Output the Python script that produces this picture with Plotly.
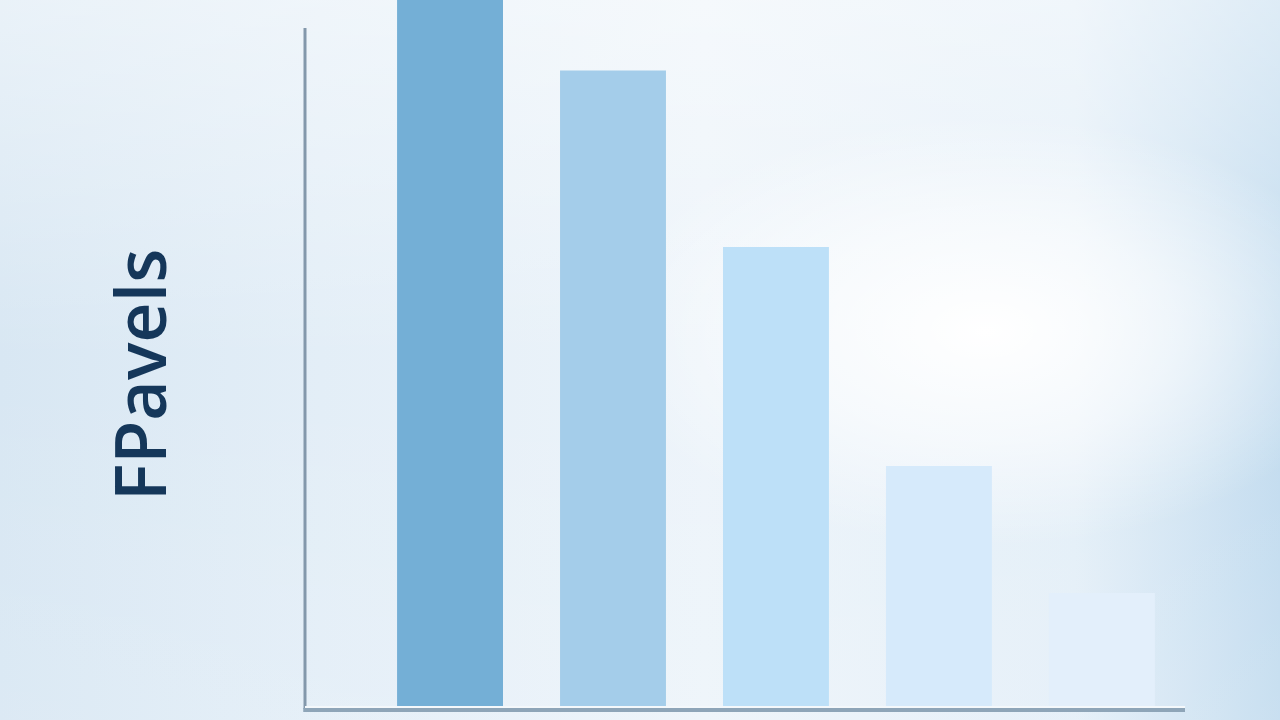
import base64
import plotly.graph_objects as go

# Data
categories = ["A", "B", "C", "D", "E"]
values = [102, 90, 65, 34, 16]
bar_colors = ["#74afd6", "#a4cdea", "#bde0f8", "#d6eafb", "#e3effb"]
y_label = "FPavels"

W, H = 1280, 720
ML, MR, MT, MB = 305, 95, 0, 14
PW, PH = W - ML - MR, H - MT - MB

svg = f"""<svg xmlns='http://www.w3.org/2000/svg' width='{W}' height='{H}' viewBox='0 0 {W} {H}' preserveAspectRatio='none'>
<defs>
<linearGradient id='g' x1='0' y1='0' x2='1' y2='0'>
<stop offset='0' stop-color='#d8e7f3'/>
<stop offset='0.25' stop-color='#e3eef7'/>
<stop offset='0.55' stop-color='#edf4fa'/>
<stop offset='0.84' stop-color='#e4eff8'/>
<stop offset='1' stop-color='#c3dcef'/>
</linearGradient>
<linearGradient id='v' x1='0' y1='0' x2='0' y2='1'>
<stop offset='0' stop-color='#ffffff' stop-opacity='0.45'/>
<stop offset='0.5' stop-color='#ffffff' stop-opacity='0'/>
<stop offset='1' stop-color='#ffffff' stop-opacity='0.1'/>
</linearGradient>
<radialGradient id='r' cx='0.77' cy='0.46' r='0.3'>
<stop offset='0' stop-color='#ffffff' stop-opacity='1'/>
<stop offset='0.5' stop-color='#ffffff' stop-opacity='0.6'/>
<stop offset='1' stop-color='#ffffff' stop-opacity='0'/>
</radialGradient>
</defs>
<rect x='0' y='0' width='{W}' height='{H}' fill='url(#g)'/>
<rect x='0' y='0' width='{W}' height='{H}' fill='url(#v)'/>
<rect x='0' y='0' width='{W}' height='{H}' fill='url(#r)'/>
</svg>"""
bg_uri = "data:image/svg+xml;base64," + base64.b64encode(svg.encode()).decode()

x_pos = list(range(len(categories)))

fig = go.Figure(
    go.Bar(
        x=x_pos,
        y=values,
        marker=dict(color=bar_colors, line=dict(width=0)),
        width=0.65,
        hoverinfo="skip",
    )
)

fig.update_layout(
    width=W,
    height=H,
    margin=dict(l=ML, r=MR, t=MT, b=MB),
    paper_bgcolor="#e6f0f8",
    plot_bgcolor="rgba(0,0,0,0)",
    showlegend=False,
    xaxis=dict(range=[-0.89, 4.51], visible=False, fixedrange=True),
    yaxis=dict(range=[0, 100], visible=False, fixedrange=True),
    images=[
        dict(
            source=bg_uri,
            xref="paper",
            yref="paper",
            x=-ML / PW,
            y=1 + MT / PH,
            sizex=W / PW,
            sizey=H / PH,
            sizing="stretch",
            xanchor="left",
            yanchor="top",
            layer="below",
        )
    ],
    shapes=[
        # y axis line
        dict(type="line", xref="paper", yref="paper",
             x0=0, x1=0, y0=-3 / PH, y1=(PH - 28) / PH,
             line=dict(color="#8398ab", width=3)),
        # x axis line (highlight + main)
        dict(type="line", xref="paper", yref="paper",
             x0=0, x1=1, y0=-1 / PH, y1=-1 / PH,
             line=dict(color="#f4f8fb", width=2)),
        dict(type="line", xref="paper", yref="paper",
             x0=-0.002, x1=1, y0=-4 / PH, y1=-4 / PH,
             line=dict(color="#8ea5b8", width=4)),
    ],
    annotations=[
        dict(
            text=y_label,
            xref="paper", yref="paper",
            x=(139 - ML) / PW, y=(H - MB - 375) / PH,
            xanchor="center", yanchor="middle",
            textangle=-90,
            showarrow=False,
            font=dict(family="Open Sans", size=70, color="#15375a", weight=600),
        )
    ],
)

fig.write_html(
    "out.html",
    config={"displayModeBar": False, "staticPlot": True},
    post_script="document.body.style.margin='0';document.body.style.overflow='hidden';",
)
